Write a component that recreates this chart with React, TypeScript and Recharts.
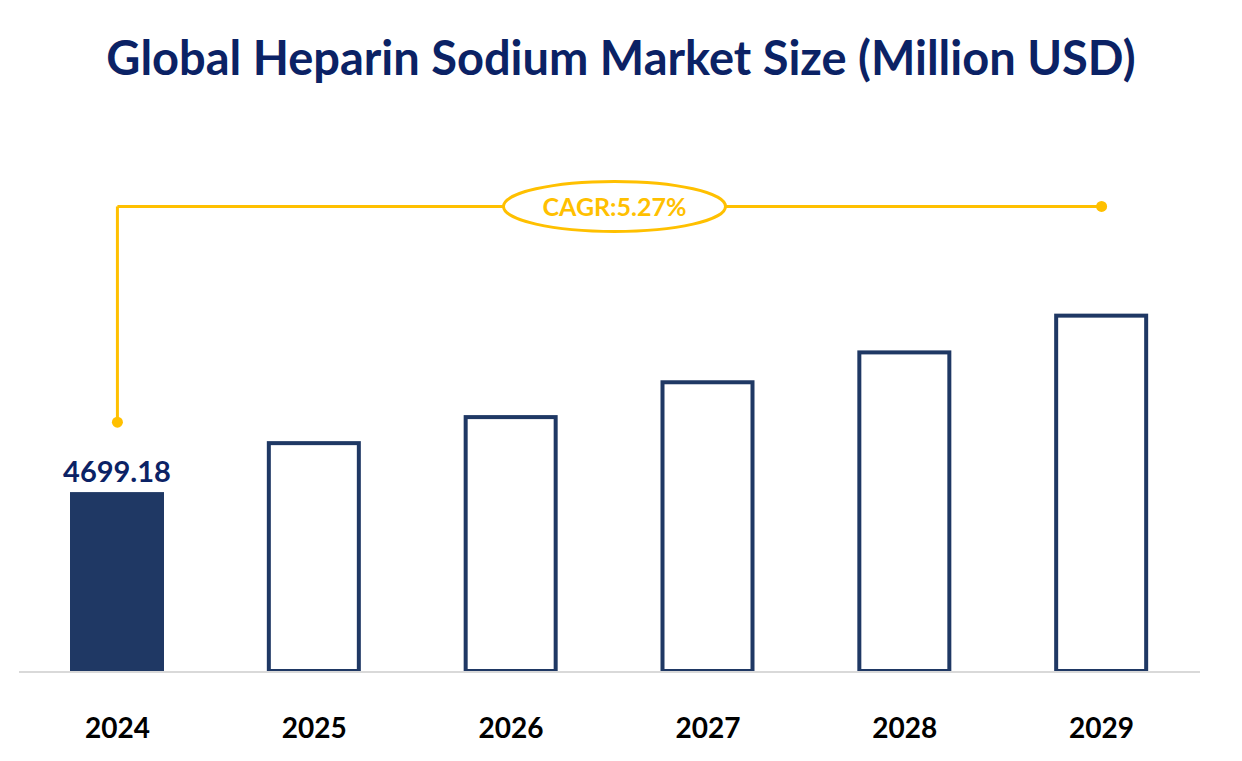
import React from "react";
import {
  BarChart,
  Bar,
  XAxis,
  YAxis,
  LabelList,
  ReferenceLine,
  ReferenceDot,
} from "recharts";

const years = ["2024", "2025", "2026", "2027", "2028", "2029"];
const marketSize = [4699.18, 6030, 6710, 7620, 8400, 9360];
const cagrText = "CAGR:5.27%";

// bracket levels, in value units of the y axis
const bracketLow = 6525;
const bracketHigh = 12160;

const NAVY = "#1F3864";
const TITLE = "#0B2265";
const GOLD = "#FFC000";
const FONT = "Lato, 'Open Sans', sans-serif";

const data = years.map((year, i) => ({ year, value: marketSize[i] }));

function BarShape(props: any) {
  const { x, y, width, height, index } = props;
  if (index === 0) {
    return <rect x={x} y={y} width={width} height={height} fill={NAVY} />;
  }
  return (
    <rect
      x={x + 2}
      y={y + 2}
      width={width - 4}
      height={height - 3}
      fill="#fff"
      stroke={NAVY}
      strokeWidth={4}
    />
  );
}

function CagrBadge(props: any) {
  const vb = props.viewBox || {};
  const cx = vb.x + vb.width / 2 + 5;
  const cy = vb.y;
  return (
    <g>
      <ellipse cx={cx} cy={cy} rx={111} ry={25} fill="#fff" stroke={GOLD} strokeWidth={3} />
      <text
        x={cx}
        y={cy}
        textAnchor="middle"
        dominantBaseline="central"
        fill={GOLD}
        fontFamily={FONT}
        fontWeight={700}
        fontSize={25}
      >
        {cagrText}
      </text>
    </g>
  );
}

export default function App() {
  return (
    <div style={{ position: "absolute", left: 0, top: 0, width: 1242, height: 761, background: "#fff" }}>
      <div
        style={{
          position: "absolute",
          top: 29,
          width: 1242,
          textAlign: "center",
          fontFamily: FONT,
          fontWeight: 700,
          fontSize: 47,
          color: TITLE,
        }}
      >
        Global Heparin Sodium Market Size (Million USD)
      </div>
      <BarChart
        width={1242}
        height={761}
        data={data}
        margin={{ top: 136, right: 42, bottom: 0, left: 19 }}
        barCategoryGap={0}
      >
        <XAxis
          dataKey="year"
          axisLine={{ stroke: "#D9D9D9", strokeWidth: 2 }}
          tickLine={false}
          tick={{ fill: "#000", fontFamily: FONT, fontWeight: 700, fontSize: 28 }}
          dy={38}
          height={89}
        />
        <YAxis hide domain={[0, 14000]} />
        <Bar dataKey="value" barSize={94} shape={<BarShape />} isAnimationActive={false}>
          <LabelList
            dataKey="value"
            position="top"
            offset={10}
            content={(p: any) =>
              p.index === 0 ? (
                <text
                  x={p.x + p.width / 2}
                  y={p.y - 10}
                  textAnchor="middle"
                  fill={TITLE}
                  fontFamily={FONT}
                  fontWeight={700}
                  fontSize={29}
                >
                  {p.value.toFixed(2)}
                </text>
              ) : null
            }
          />
        </Bar>
        <ReferenceLine
          segment={[
            { x: years[0], y: bracketLow },
            { x: years[0], y: bracketHigh },
          ]}
          stroke={GOLD}
          strokeWidth={3}
        />
        <ReferenceLine
          segment={[
            { x: years[0], y: bracketHigh },
            { x: years[years.length - 1], y: bracketHigh },
          ]}
          stroke={GOLD}
          strokeWidth={3}
          label={<CagrBadge />}
        />
        <ReferenceDot x={years[0]} y={bracketLow} r={5.5} fill={GOLD} stroke="none" />
        <ReferenceDot x={years[years.length - 1]} y={bracketHigh} r={5.5} fill={GOLD} stroke="none" />
      </BarChart>
    </div>
  );
}
